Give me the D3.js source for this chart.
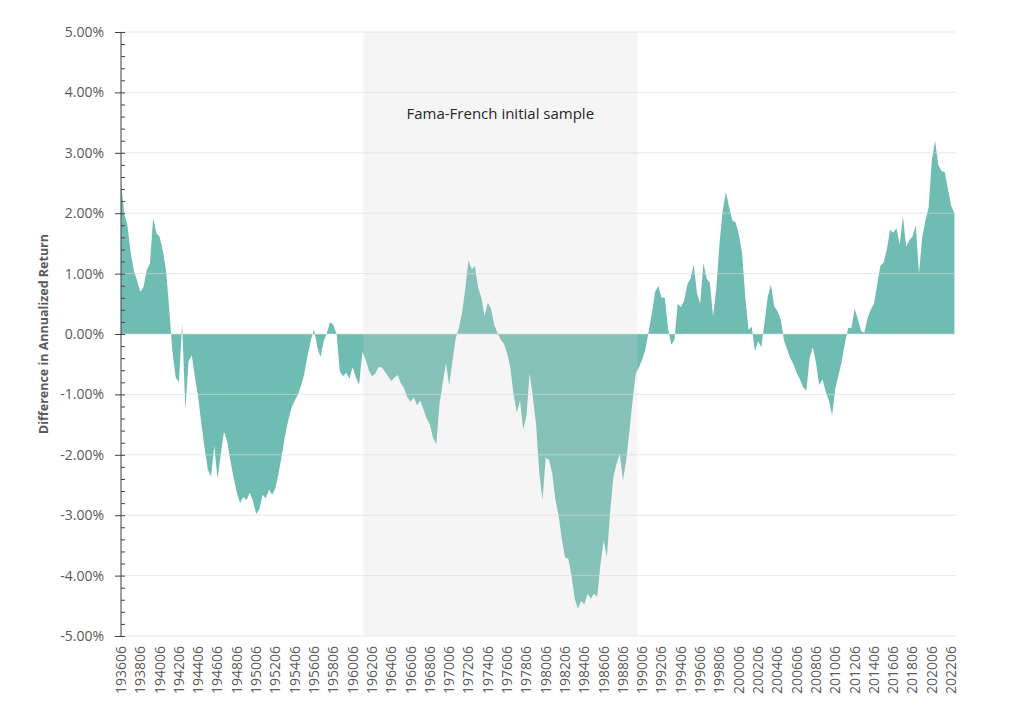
<!DOCTYPE html>
<html>
<head>
<meta charset="utf-8">
<script src="https://cdn.jsdelivr.net/npm/d3@7"></script>
<style>
  body { margin: 0; background: #fff; }
  svg text { font-family: "Open Sans", sans-serif; }
</style>
</head>
<body>
<div id="chart"></div>
<script>
// monthly series sampled every 4 months, starting 193606 (difference in annualized return, %)
const startMonth = "193606";
const stepMonths = 4;
const values = [
  2.5, 2.0, 1.8, 1.35, 1.05, 0.88, 0.7, 0.78, 1.06, 1.17,
  1.92, 1.67, 1.61, 1.38, 1.05, 0.4, -0.3, -0.72, -0.8, 0.18,
  -1.25, -0.45, -0.35, -0.72, -1.05, -1.5, -1.9, -2.25, -2.36, -1.85,
  -2.4, -2.0, -1.62, -1.78, -2.1, -2.38, -2.63, -2.8, -2.7, -2.75,
  -2.63, -2.76, -2.98, -2.9, -2.66, -2.72, -2.58, -2.66, -2.55, -2.3,
  -2.0, -1.68, -1.42, -1.22, -1.1, -1.0, -0.85, -0.65, -0.35, -0.1,
  0.08, -0.22, -0.38, -0.12, 0.02, 0.2, 0.15, 0.0, -0.62, -0.7,
  -0.64, -0.74, -0.55, -0.72, -0.84, -0.3, -0.42, -0.6, -0.7, -0.66,
  -0.55, -0.55, -0.62, -0.7, -0.78, -0.72, -0.68, -0.82, -0.9, -1.05,
  -1.12, -1.05, -1.18, -1.1, -1.25, -1.4, -1.5, -1.72, -1.82, -1.15,
  -0.8, -0.48, -0.85, -0.45, -0.08, 0.1, 0.35, 0.75, 1.22, 1.07,
  1.12, 0.76, 0.6, 0.3, 0.52, 0.42, 0.15, 0.02, -0.09, -0.16,
  -0.32, -0.56, -1.0, -1.3, -1.1, -1.58, -1.35, -0.65, -1.05, -1.5,
  -2.3, -2.75, -2.05, -2.08, -2.3, -2.75, -3.0, -3.4, -3.7, -3.72,
  -4.0, -4.38, -4.55, -4.42, -4.48, -4.3, -4.38, -4.3, -4.35, -3.82,
  -3.42, -3.7, -2.95, -2.38, -2.15, -1.98, -2.42, -2.1, -1.6, -1.1,
  -0.65, -0.55, -0.42, -0.25, 0.05, 0.35, 0.7, 0.8, 0.6, 0.6,
  0.1, -0.18, -0.1, 0.5, 0.45, 0.55, 0.82, 0.92, 1.15, 0.68,
  0.5, 1.17, 0.92, 0.85, 0.3, 0.75, 1.5, 2.05, 2.35, 2.1,
  1.88, 1.85, 1.65, 1.35, 0.62, 0.07, 0.12, -0.28, -0.12, -0.22,
  0.2, 0.62, 0.82, 0.46, 0.38, 0.25, -0.1, -0.25, -0.4, -0.5,
  -0.65, -0.75, -0.88, -0.94, -0.4, -0.22, -0.48, -0.85, -0.75, -0.95,
  -1.1, -1.35, -0.9, -0.68, -0.45, -0.15, 0.1, 0.1, 0.42, 0.25,
  0.05, 0.02, 0.26, 0.4, 0.5, 0.82, 1.13, 1.18, 1.4, 1.72,
  1.68, 1.75, 1.48, 1.95, 1.45, 1.55, 1.62, 1.8, 1.0, 1.6,
  1.88, 2.1, 2.88, 3.2, 2.8, 2.7, 2.68, 2.4, 2.12, 2.0
];
const lastMonth = "202212";
const tickLabels = [
  "193606", "193806", "194006", "194206", "194406", "194606", "194806", "195006",
  "195206", "195406", "195606", "195806", "196006", "196206", "196406", "196606",
  "196806", "197006", "197206", "197406", "197606", "197806", "198006", "198206",
  "198406", "198606", "198806", "199006", "199206", "199406", "199606", "199806",
  "200006", "200206", "200406", "200606", "200806", "201006", "201206", "201406",
  "201606", "201806", "202006", "202206"
];
const yTicks = [-5, -4, -3, -2, -1, 0, 1, 2, 3, 4, 5];
const shadeRange = ["196107", "198912"];
const shadeLabel = "Fama-French initial sample";
const yTitle = "Difference in Annualized Return";

function monthIndex(s) {
  return (+s.slice(0, 4) - +startMonth.slice(0, 4)) * 12 + (+s.slice(4) - +startMonth.slice(4));
}

const width = 1024, height = 708;
const plot = { left: 121, right: 956, top: 32, bottom: 636 };

const svg = d3.select("#chart").append("svg")
  .attr("width", width)
  .attr("height", height);

const x = d3.scaleLinear().domain([0, monthIndex(lastMonth)]).range([plot.left, plot.right]);
const y = d3.scaleLinear().domain([-5, 5]).range([plot.bottom, plot.top]);

const data = values.map((v, i) => ({ m: i * stepMonths, v: v }));

// area
const area = d3.area()
  .x(d => x(d.m))
  .y0(y(0))
  .y1(d => y(d.v));

svg.append("path")
  .datum(data)
  .attr("d", area)
  .attr("fill", "#6fbdb2");

// shaded sample period (over the area, so the teal gets lighter)
const sx0 = x(monthIndex(shadeRange[0])), sx1 = x(monthIndex(shadeRange[1]));
svg.append("rect")
  .attr("x", sx0)
  .attr("y", plot.top)
  .attr("width", sx1 - sx0)
  .attr("height", plot.bottom - plot.top)
  .attr("fill", "#d4d4d4")
  .attr("opacity", 0.23);

// gridlines
svg.append("g")
  .selectAll("line")
  .data(yTicks)
  .enter().append("line")
  .attr("x1", plot.left)
  .attr("x2", plot.right)
  .attr("y1", d => y(d))
  .attr("y2", d => y(d))
  .attr("stroke", "#d9d9d9")
  .attr("stroke-opacity", 0.6);

svg.append("text")
  .attr("x", (sx0 + sx1) / 2)
  .attr("y", 119)
  .attr("text-anchor", "middle")
  .attr("font-size", "15px")
  .attr("fill", "#262626")
  .text(shadeLabel);

// y axis: minor ticks inside, major ticks crossing
const minor = d3.range(-25, 26).map(d => d / 5);
svg.append("g")
  .attr("transform", `translate(${plot.left},0)`)
  .call(d3.axisRight(y).tickValues(minor).tickSize(4).tickFormat(""))
  .call(g => g.select(".domain").remove())
  .call(g => g.selectAll("line").attr("stroke", "#404040"));

const yAxis = svg.append("g")
  .attr("transform", `translate(${plot.left},0)`)
  .call(d3.axisLeft(y).tickValues(yTicks).tickSize(6).tickPadding(11)
    .tickFormat(d => d.toFixed(2) + "%"));
yAxis.select(".domain").attr("stroke", "#404040").attr("d", `M0,${plot.top}V${plot.bottom}`);
yAxis.selectAll("line").attr("stroke", "#404040");
yAxis.selectAll("text")
  .attr("font-size", "14px")
  .attr("font-family", "Open Sans, sans-serif")
  .attr("fill", "#595959");

// x labels, rotated
svg.append("g")
  .selectAll("text")
  .data(tickLabels)
  .enter().append("text")
  .attr("transform", d => `translate(${x(monthIndex(d))},646) rotate(-90)`)
  .attr("dy", "0.35em")
  .attr("text-anchor", "end")
  .attr("font-size", "14px")
  .attr("fill", "#595959")
  .text(d => d);

svg.append("text")
  .attr("transform", `translate(48,${(plot.top + plot.bottom) / 2}) rotate(-90)`)
  .attr("text-anchor", "middle")
  .attr("font-size", "12.5px")
  .attr("font-weight", "bold")
  .attr("fill", "#595959")
  .text(yTitle);
</script>
</body>
</html>
